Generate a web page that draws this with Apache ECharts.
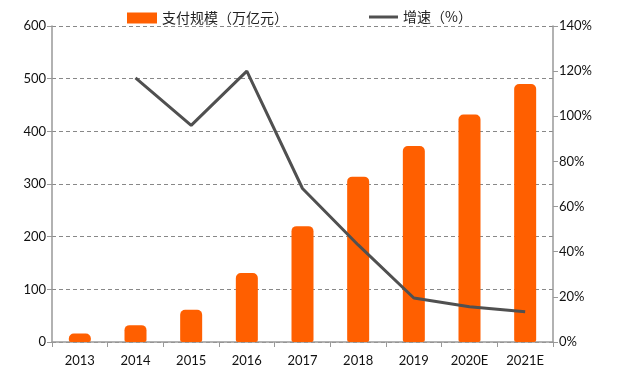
<!DOCTYPE html>
<html>
<head>
<meta charset="utf-8">
<script src="https://cdn.jsdelivr.net/npm/echarts@6/dist/echarts.min.js"></script>
<style>html,body{margin:0;padding:0;background:#fff}#c{width:640px;height:376px}</style>
</head>
<body>
<div id="c"></div>
<script>
const categories = ['2013','2014','2015','2016','2017','2018','2019','2020E','2021E'];
const paymentScale = [16, 32, 61, 131, 220, 314, 372, 432, 490];
const growthRate = [null, 117, 96, 120, 68, 43, 19.5, 15.6, 13.4];
const seriesNames = ['支付规模（万亿元）', '增速（%）'];

const chart = echarts.init(document.getElementById('c'));
const axisFont = {fontFamily: 'Lato', fontSize: 13, color: '#111'};
const legendText = {fontFamily: 'Noto Sans CJK SC', fontSize: 14, color: '#222'};
chart.setOption({
  animation: false,
  legend: [
    {
      left: 122, top: 6,
      itemWidth: 30, itemHeight: 11,
      textStyle: legendText,
      data: [{name: seriesNames[0], icon: 'rect'}]
    },
    {
      left: 364, top: 2,
      itemWidth: 29, itemHeight: 3,
      textStyle: Object.assign({lineHeight: 20}, legendText),
      data: [{name: seriesNames[1], icon: 'rect'}]
    }
  ],
  grid: {left: 52, right: 87, top: 26, bottom: 34},
  xAxis: {
    type: 'category',
    data: categories,
    axisLine: {lineStyle: {color: '#999', width: 1.5}},
    axisTick: {show: true, inside: false, length: 5, lineStyle: {color: '#999'}},
    axisLabel: Object.assign({margin: 12}, axisFont)
  },
  yAxis: [
    {
      type: 'value', min: 0, max: 600, interval: 100,
      axisLine: {show: true, lineStyle: {color: '#999', width: 1.5}},
      axisTick: {show: true, length: 5, lineStyle: {color: '#999'}},
      axisLabel: Object.assign({margin: 6}, axisFont),
      splitLine: {show: true, lineStyle: {color: '#888', type: [4, 3], width: 1}}
    },
    {
      type: 'value', min: 0, max: 140, interval: 20,
      axisLine: {show: true, lineStyle: {color: '#999', width: 1.5}},
      axisTick: {show: true, length: 5, lineStyle: {color: '#999'}},
      axisLabel: Object.assign({margin: 6, formatter: '{value}%'}, axisFont),
      splitLine: {show: false}
    }
  ],
  series: [
    {
      name: seriesNames[0], type: 'bar', data: paymentScale,
      barWidth: 22,
      itemStyle: {color: '#FF5F00', borderRadius: [5, 5, 2, 2]}
    },
    {
      name: seriesNames[1], type: 'line', yAxisIndex: 1, data: growthRate,
      symbol: 'none', connectNulls: false,
      lineStyle: {color: '#505050', width: 3},
      itemStyle: {color: '#505050'},
      z: 5
    }
  ]
});
</script>
</body>
</html>
